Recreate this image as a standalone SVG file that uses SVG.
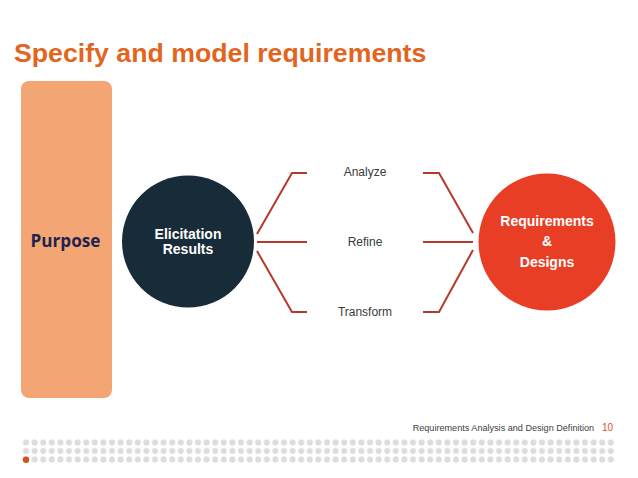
<svg xmlns="http://www.w3.org/2000/svg" width="638" height="478" viewBox="0 0 638 478">
<style>
.title{font-family:"Liberation Sans",Arial,sans-serif;font-weight:bold;font-size:26.7px;fill:#E2651E}
.node{font-family:"Liberation Sans",Arial,sans-serif;font-weight:bold;font-size:14px;fill:#FFFFFF;text-anchor:middle}
.lbl{font-family:"Liberation Sans",Arial,sans-serif;font-size:12px;fill:#3A3A3A;text-anchor:middle}
.foot{font-family:"Liberation Sans",Arial,sans-serif;font-size:9.1px;fill:#404040}
.conn{fill:none;stroke:#B5392A;stroke-width:2}
</style>
<defs>
<pattern id="dots" patternUnits="userSpaceOnUse" x="21.7" y="438.25" width="8.6" height="8.5">
<circle cx="4.3" cy="4.25" r="3" fill="#DCDCDC"/>
</pattern>
</defs>
<rect width="638" height="478" fill="#FFFFFF"/>
<text class="title" x="14" y="62">Specify and model requirements</text>
<g id="purpose">
<rect x="21" y="81" width="91" height="317" rx="8" fill="#F4A574"/>
<text x="65.5" y="247" text-anchor="middle" textLength="70" lengthAdjust="spacingAndGlyphs" font-family="'Open Sans','Noto Sans',sans-serif" font-weight="bold" font-size="17" fill="#1F2350">Purpose</text>
</g>
<g id="elicitation">
<circle cx="188" cy="241.5" r="66" fill="#172B38"/>
<text class="node" x="188" y="239">Elicitation</text>
<text class="node" x="188" y="254">Results</text>
</g>
<g id="analyze"><text class="lbl" x="365" y="176">Analyze</text></g>
<g id="refine"><text class="lbl" x="365" y="246">Refine</text></g>
<g id="transform"><text class="lbl" x="365" y="316">Transform</text></g>
<g id="requirements">
<circle cx="547" cy="242" r="68.5" fill="#E83E25"/>
<text class="node" x="547" y="226">Requirements</text>
<text class="node" x="547" y="246">&amp;</text>
<text class="node" x="547" y="267">Designs</text>
</g>
<g id="connectors">
<polyline class="conn" points="257,234 292,173 307,173"/>
<line class="conn" x1="257" y1="242" x2="307" y2="242"/>
<polyline class="conn" points="257,251 292,312 307,312"/>
<polyline class="conn" points="423,173 439,173 473,233"/>
<line class="conn" x1="423" y1="242" x2="473" y2="242"/>
<polyline class="conn" points="473,250 439,312 423,312"/>
</g>
<text class="foot" x="412.7" y="431">Requirements Analysis and Design Definition</text>
<text class="foot" x="602" y="431" font-size="10" style="fill:#D9532A;font-size:10px">10</text>
<rect x="21.7" y="438.25" width="593.4" height="25.5" fill="url(#dots)"/>
<circle cx="26" cy="459.75" r="3.2" fill="#D2521F"/>
</svg>
